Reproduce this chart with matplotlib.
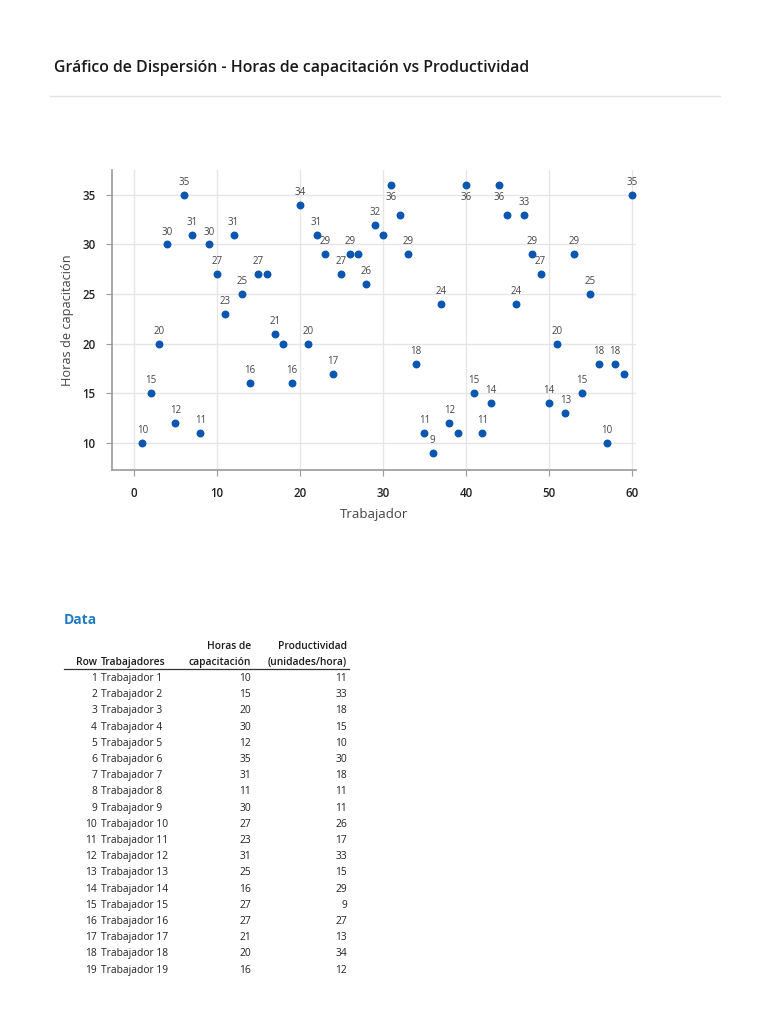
import matplotlib
matplotlib.use("Agg")
import matplotlib.pyplot as plt

plt.rcParams['font.family'] = ['Open Sans', 'DejaVu Sans']

# Datos
trabajador = list(range(1, 61))
horas = [10, 15, 20, 30, 12, 35, 31, 11, 30, 27,
         23, 31, 25, 16, 27, 27, 21, 20, 16, 34,
         20, 31, 29, 17, 27, 29, 29, 26, 32, 31,
         36, 33, 29, 18, 11, 9, 24, 12, 11, 36,
         15, 11, 14, 36, 33, 24, 33, 29, 27, 14,
         20, 13, 29, 15, 25, 18, 10, 18, 17, 35]

# tabla (primeras 19 filas)
tabla_nombres = ['Trabajador %d' % i for i in range(1, 20)]
tabla_horas = horas[:19]
tabla_prod = [11, 33, 18, 15, 10, 30, 18, 11, 11, 26,
              17, 33, 15, 29, 9, 27, 13, 34, 12]

# etiquetas que no se muestran (solapadas) y las que van debajo
sin_etiqueta = [16, 18, 27, 30, 32, 39, 45, 59]
etiqueta_abajo = [31, 40, 44]

azul = '#0a56b0'

fig = plt.figure(figsize=(7.68, 10.24), dpi=100)

# titulo y linea
fig.text(54 / 768, 1 - 68 / 1024, 'Gráfico de Dispersión - Horas de capacitación vs Productividad',
         fontsize=11.4, fontweight='semibold', color='#1a1a1a', va='center', ha='left')
fig.add_artist(plt.Line2D([50 / 768, 720 / 768], [1 - 96 / 1024, 1 - 96 / 1024],
                          color='#e2e2e2', lw=1))

ax = fig.add_axes([112 / 768, 1 - 470 / 1024, 524 / 768, 300 / 1024])
ax.scatter(trabajador, horas, s=22, color=azul, zorder=3, clip_on=False)
for x, y in zip(trabajador, horas):
    if x in sin_etiqueta:
        continue
    if x in etiqueta_abajo:
        ax.annotate(str(y), (x, y), xytext=(0, -5), textcoords='offset points',
                    ha='center', va='top', fontsize=7, color='#444444')
    else:
        ax.annotate(str(y), (x, y), xytext=(0, 5), textcoords='offset points',
                    ha='center', va='bottom', fontsize=7, color='#444444')

ax.set_xlim(-2.65, 60.5)
ax.set_ylim(7.28, 37.5)
ax.set_xticks([0, 10, 20, 30, 40, 50, 60])
ax.set_yticks([10, 15, 20, 25, 30, 35])
ax.grid(True, color='#e6e6e6', lw=1)
ax.set_axisbelow(True)
for s in ['top', 'right']:
    ax.spines[s].set_visible(False)
for s in ['left', 'bottom']:
    ax.spines[s].set_color('#9a9a9a')
    ax.spines[s].set_linewidth(1.2)
ax.tick_params(length=4, color='#9a9a9a', labelsize=8.3, labelcolor='#222222', pad=8)
for t in ax.get_xticklabels() + ax.get_yticklabels():
    t.set_fontweight('semibold')
ax.set_xlabel('Trabajador', fontsize=9.5, color='#444444', labelpad=6)
ax.set_ylabel('Horas de capacitación', fontsize=9.2, color='#444444', labelpad=6)

# seccion de datos
fig.text(64 / 768, 1 - 620 / 1024, 'Data', fontsize=10, fontweight='bold',
         color='#1f7bc6', va='center')

fs = 7.4
def fy(py):
    # linea base un poco por debajo del centro
    return 1 - (py + 4) / 1024

hdr = dict(fontsize=fs, va='baseline', color='#1a1a1a', fontweight='semibold')
fig.text(97 / 768, fy(661), 'Row', ha='right', **hdr)
fig.text(101 / 768, fy(661), 'Trabajadores', ha='left', **hdr)
fig.text(251 / 768, fy(645), 'Horas de', ha='right', **hdr)
fig.text(251 / 768, fy(661), 'capacitación', ha='right', **hdr)
fig.text(347 / 768, fy(645), 'Productividad', ha='right', **hdr)
fig.text(347 / 768, fy(661), '(unidades/hora)', ha='right', **hdr)
fig.add_artist(plt.Line2D([64 / 768, 349 / 768], [1 - 669 / 1024, 1 - 669 / 1024],
                          color='#333333', lw=0.9))

cel = dict(fontsize=fs, va='baseline', color='#222222')
for i, (n, h, p) in enumerate(zip(tabla_nombres, tabla_horas, tabla_prod)):
    py = 677 + i * 16.2
    fig.text(97 / 768, fy(py), str(i + 1), ha='right', **cel)
    fig.text(101 / 768, fy(py), n, ha='left', **cel)
    fig.text(251 / 768, fy(py), str(h), ha='right', **cel)
    fig.text(347 / 768, fy(py), str(p), ha='right', **cel)

fig.savefig('out.png', dpi=100)
